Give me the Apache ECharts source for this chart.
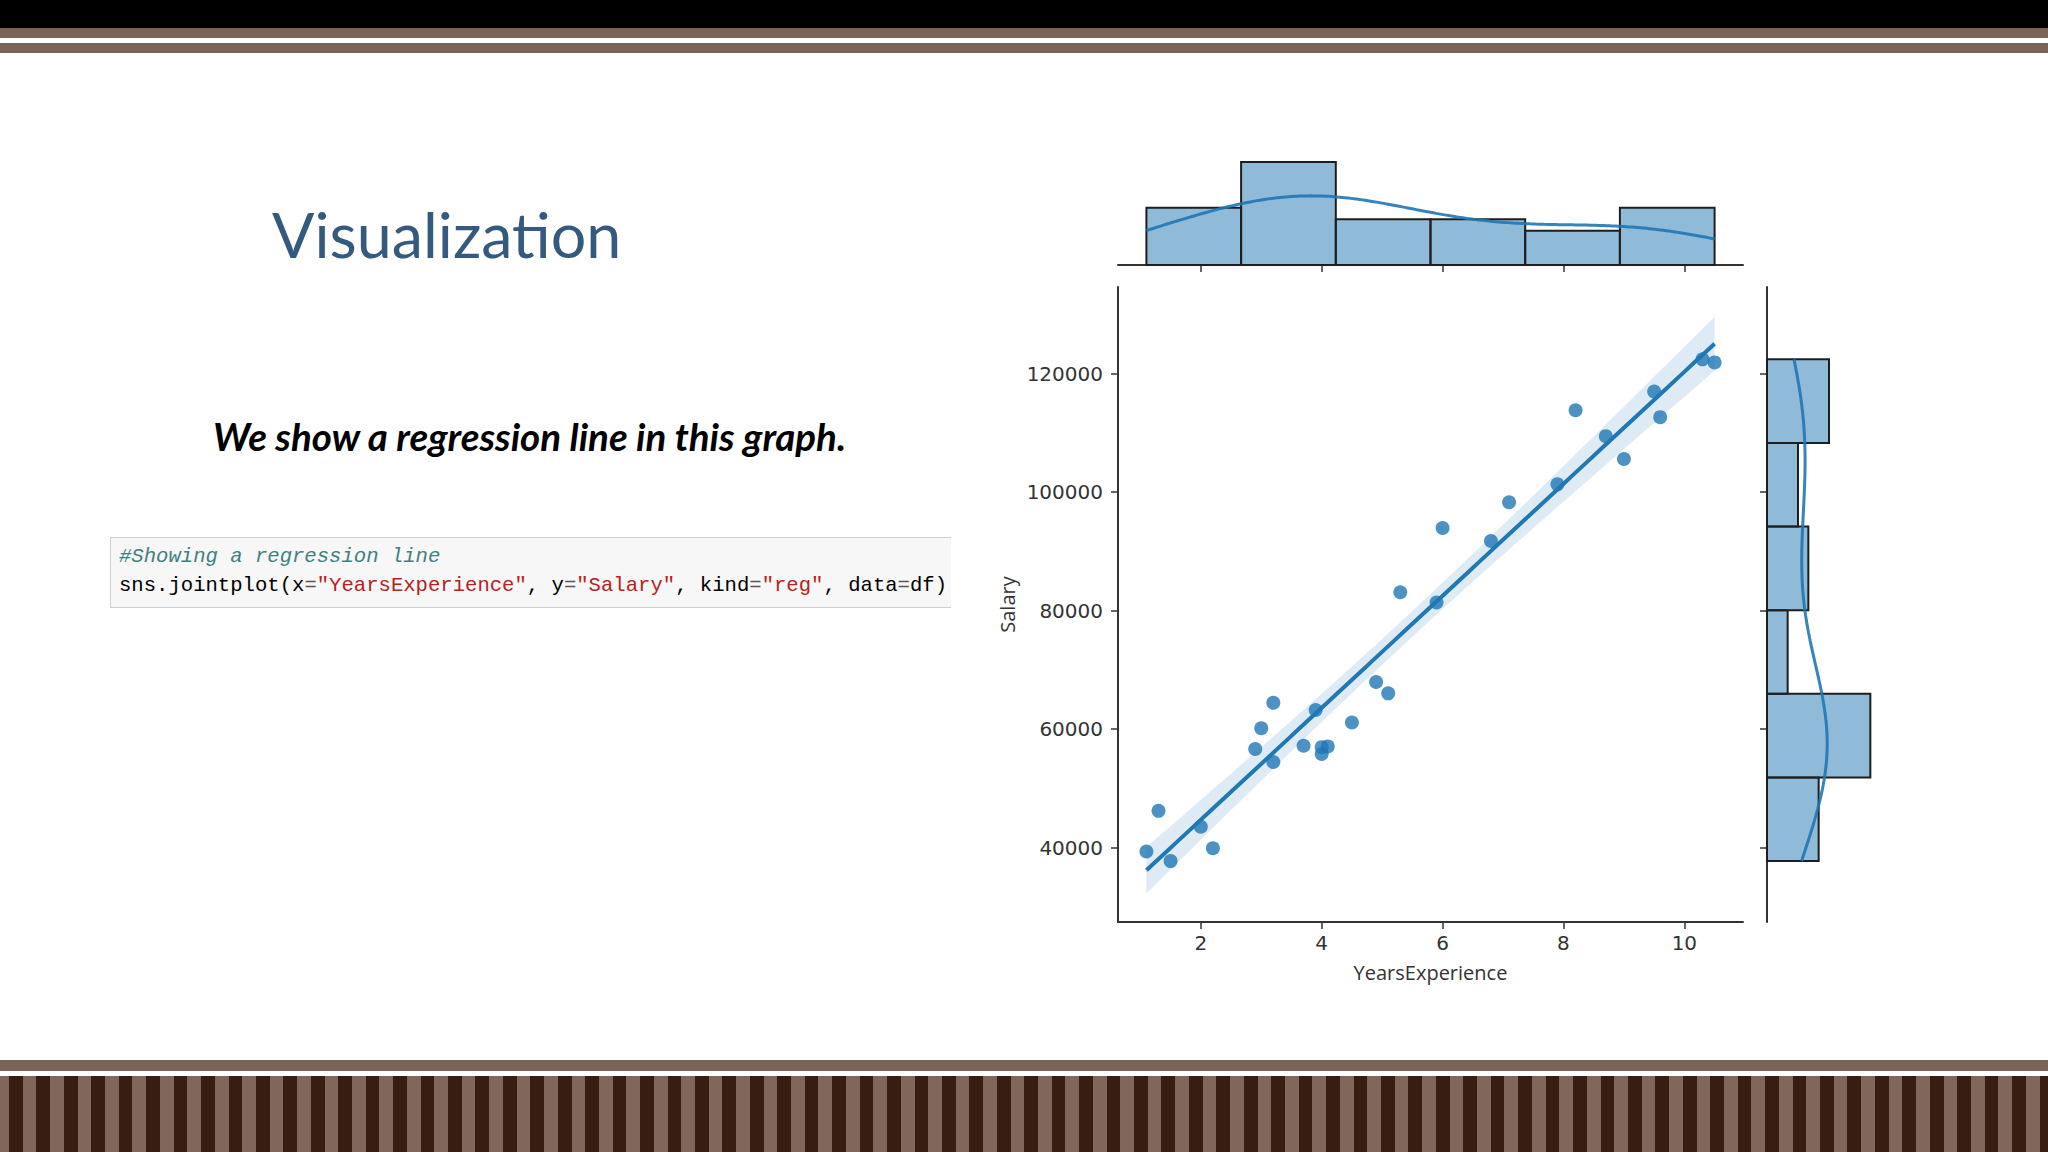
<!DOCTYPE html>
<html>
<head>
<meta charset="utf-8">
<script src="https://cdn.jsdelivr.net/npm/echarts@6/dist/echarts.min.js"></script>
<style>
  html, body { margin: 0; padding: 0; }
  body { width: 2048px; height: 1152px; position: relative; overflow: hidden; background: #ffffff; }
  .abs { position: absolute; }
  .band { position: absolute; left: 0; width: 2048px; }
  #title { left: 272px; top: 203px; font-family: Lato, sans-serif; font-size: 62.8px; line-height: 1; color: #345b7f; white-space: nowrap; }
  #subtitle { left: 213px; top: 417px; font-family: Lato, sans-serif; font-weight: bold; font-style: italic; font-size: 38.5px; line-height: 1; color: #000; white-space: nowrap; }
  #code { left: 110px; top: 537px; width: 841px; height: 71px; background: #f7f7f7; border: 1px solid #cfcfcf; border-right: none; box-sizing: border-box; }
  .codeline { position: absolute; left: 8px; font-family: "Liberation Mono", monospace; font-size: 20.6px; line-height: 1; white-space: pre; color: #000; }
  .cm { color: #408080; font-style: italic; }
  .st { color: #ba2121; }
  .op { color: #555; }
  #chart { position: absolute; left: 0; top: 0; width: 2048px; height: 1152px; }
</style>
</head>
<body>
<div class="band" style="top:0;height:28px;background:#000;"></div>
<div class="band" style="top:28px;height:10px;background:#7a6458;"></div>
<div class="band" style="top:43px;height:10px;background:#7a6458;"></div>
<div class="band" style="top:1060px;height:11px;background:#7a6458;"></div>
<div class="band" style="top:1076px;height:76px;background:repeating-linear-gradient(90deg,#7f675b 0px,#7f675b 9px,#381d12 9px,#381d12 22.7px,#7f675b 22.7px,#7f675b 27.44px);"></div>

<div id="title" class="abs">Visualization</div>
<div id="subtitle" class="abs">We show a regression line in this graph.</div>
<div id="code" class="abs">
  <div class="codeline" style="top:9px;"><span class="cm">#Showing a regression line</span></div>
  <div class="codeline" style="top:38px;">sns.jointplot(x<span class="op">=</span><span class="st">"YearsExperience"</span>, y<span class="op">=</span><span class="st">"Salary"</span>, kind<span class="op">=</span><span class="st">"reg"</span>, data<span class="op">=</span>df)</div>
</div>

<div id="chart"></div>
<script>
// ---- data ----
const yearsExperience = [1.1, 1.3, 1.5, 2.0, 2.2, 2.9, 3.0, 3.2, 3.2, 3.7, 3.9, 4.0, 4.0, 4.1, 4.5,
                         4.9, 5.1, 5.3, 5.9, 6.0, 6.8, 7.1, 7.9, 8.2, 8.7, 9.0, 9.5, 9.6, 10.3, 10.5];
const salary = [39343, 46205, 37731, 43525, 39891, 56642, 60150, 54445, 64445, 57189, 63218, 55794, 56957, 57081, 61111,
                67938, 66029, 83088, 81363, 93940, 91738, 98273, 101302, 113812, 109431, 105582, 116969, 112635, 122391, 121872];
const xHistCounts = [5, 9, 4, 4, 3, 5];
const yHistCounts = [5, 10, 2, 4, 3, 6];
const xTickValues = [2, 4, 6, 8, 10];
const yTickValues = [40000, 60000, 80000, 100000, 120000];
const xAxisName = 'YearsExperience';
const yAxisName = 'Salary';

// ---- derived quantities ----
const n = yearsExperience.length;
const mean = a => a.reduce((s, v) => s + v, 0) / a.length;
const sd = a => { const m = mean(a); return Math.sqrt(a.reduce((s, v) => s + (v - m) * (v - m), 0) / (a.length - 1)); };

function binEdges(vals, k) {
  const lo = Math.min(...vals), hi = Math.max(...vals), w = (hi - lo) / k;
  const e = []; for (let i = 0; i <= k; i++) e.push(lo + i * w);
  return e;
}
const xEdges = binEdges(yearsExperience, xHistCounts.length);
const yEdges = binEdges(salary, yHistCounts.length);
const xBinW = xEdges[1] - xEdges[0];
const yBinW = yEdges[1] - yEdges[0];

function kdeCurve(vals, scale, steps) {
  const bw = sd(vals) * Math.pow(vals.length, -0.2);
  const lo = Math.min(...vals), hi = Math.max(...vals);
  const out = [];
  for (let i = 0; i <= steps; i++) {
    const g = lo + (hi - lo) * i / steps;
    let s = 0;
    for (const v of vals) { const z = (g - v) / bw; s += Math.exp(-0.5 * z * z); }
    out.push([g, s / (vals.length * bw * Math.sqrt(2 * Math.PI)) * scale]);
  }
  return out;
}
const xKde = kdeCurve(yearsExperience, n * xBinW, 200);
const yKde = kdeCurve(salary, n * yBinW, 200).map(p => [p[1], p[0]]);

// OLS regression and 95% confidence band
const mx = mean(yearsExperience), my = mean(salary);
let sxx = 0, sxy = 0;
for (let i = 0; i < n; i++) { sxx += (yearsExperience[i] - mx) ** 2; sxy += (yearsExperience[i] - mx) * (salary[i] - my); }
const slope = sxy / sxx, intercept = my - slope * mx;
let sse = 0;
for (let i = 0; i < n; i++) sse += (salary[i] - intercept - slope * yearsExperience[i]) ** 2;
const sRes = Math.sqrt(sse / (n - 2));
const tCrit = 2.048;
const xLo = Math.min(...yearsExperience), xHi = Math.max(...yearsExperience);
const regLine = [], bandUpper = [], bandLower = [];
for (let i = 0; i <= 60; i++) {
  const x = xLo + (xHi - xLo) * i / 60;
  const yh = intercept + slope * x;
  const se = sRes * Math.sqrt(1 / n + (x - mx) ** 2 / sxx);
  regLine.push([x, yh]);
  bandUpper.push([x, yh + tCrit * se]);
  bandLower.push([x, yh - tCrit * se]);
}
const bandPoly = bandUpper.concat(bandLower.slice().reverse());

const xMin = 0.63, xMax = 10.97, yMin = 27450, yMax = 134600;
const axisCol = '#333333';
const blue = '#1f77b4';

const chart = echarts.init(document.getElementById('chart'), null, { renderer: 'svg' });
const histItem = (horizontal) => function (params, api) {
  const a = api.value(0), b = api.value(1), c = api.value(2);
  let p0, p1;
  if (!horizontal) { p0 = api.coord([a, c]); p1 = api.coord([b, 0]); }
  else { p0 = api.coord([0, b]); p1 = api.coord([c, a]); }
  return {
    type: 'rect',
    shape: { x: p0[0], y: p0[1], width: p1[0] - p0[0], height: p1[1] - p0[1] },
    style: { fill: 'rgba(31,119,180,0.5)', stroke: '#1e1e1e', lineWidth: 2 }
  };
};

chart.setOption({
  backgroundColor: 'transparent',
  animation: false,
  grid: [
    { left: 1118, top: 287, width: 625, height: 635, outerBoundsMode: 'none' },
    { left: 1118, top: 139, width: 625, height: 126, outerBoundsMode: 'none' },
    { left: 1767, top: 287, width: 124, height: 635, outerBoundsMode: 'none' }
  ],
  xAxis: [
    {
      gridIndex: 0, type: 'value', min: xMin, max: xMax,
      axisLine: { show: true, onZero: false, lineStyle: { color: axisCol, width: 2 } },
      axisTick: { show: true, length: 7, customValues: xTickValues, lineStyle: { color: axisCol, width: 1.5 } },
      axisLabel: { customValues: xTickValues, color: '#333', fontSize: 20, fontFamily: 'DejaVu Sans', margin: 11 },
      splitLine: { show: false },
      name: xAxisName, nameLocation: 'middle', nameGap: 40,
      nameTextStyle: { fontFamily: 'Open Sans', fontSize: 20, color: '#333' }
    },
    {
      gridIndex: 1, type: 'value', min: xMin, max: xMax,
      axisLine: { show: true, onZero: false, lineStyle: { color: axisCol, width: 2 } },
      axisTick: { show: true, length: 7, customValues: xTickValues, lineStyle: { color: axisCol, width: 1.5 } },
      axisLabel: { show: false },
      splitLine: { show: false }
    },
    { gridIndex: 2, type: 'value', min: 0, max: 12, show: false, splitLine: { show: false } }
  ],
  yAxis: [
    {
      gridIndex: 0, type: 'value', min: yMin, max: yMax,
      axisLine: { show: true, onZero: false, lineStyle: { color: axisCol, width: 2 } },
      axisTick: { show: true, length: 7, customValues: yTickValues, lineStyle: { color: axisCol, width: 1.5 } },
      axisLabel: { customValues: yTickValues, color: '#333', fontSize: 20, fontFamily: 'DejaVu Sans', margin: 15, formatter: v => String(v) },
      splitLine: { show: false },
      name: yAxisName, nameLocation: 'middle', nameGap: 101, nameRotate: 90,
      nameTextStyle: { fontFamily: 'Open Sans', fontSize: 20, color: '#333' }
    },
    { gridIndex: 1, type: 'value', min: 0, max: 11, show: false, splitLine: { show: false } },
    {
      gridIndex: 2, type: 'value', min: yMin, max: yMax,
      axisLine: { show: true, onZero: false, lineStyle: { color: axisCol, width: 2 } },
      axisTick: { show: true, length: 7, customValues: yTickValues, lineStyle: { color: axisCol, width: 1.5 } },
      axisLabel: { show: false },
      splitLine: { show: false }
    }
  ],
  series: [
    {
      type: 'scatter', xAxisIndex: 0, yAxisIndex: 0, z: 2,
      data: yearsExperience.map((x, i) => [x, salary[i]]),
      symbolSize: 14,
      itemStyle: { color: blue, opacity: 0.8 }
    },
    {
      type: 'custom', xAxisIndex: 0, yAxisIndex: 0, z: 3, silent: true,
      data: [[xLo, intercept + slope * xLo]],
      renderItem: (params, api) => ({
        type: 'polygon',
        shape: { points: bandPoly.map(p => api.coord(p)) },
        style: { fill: 'rgba(31,119,180,0.15)' }
      })
    },
    {
      type: 'line', xAxisIndex: 0, yAxisIndex: 0, z: 4,
      data: regLine, showSymbol: false, symbol: 'none',
      lineStyle: { color: blue, width: 4 }
    },
    {
      type: 'custom', xAxisIndex: 1, yAxisIndex: 1, z: 2,
      data: xHistCounts.map((c, i) => [xEdges[i], xEdges[i + 1], c]),
      encode: { x: [0, 1], y: 2 },
      renderItem: histItem(false)
    },
    {
      type: 'line', xAxisIndex: 1, yAxisIndex: 1, z: 3,
      data: xKde, showSymbol: false, symbol: 'none',
      lineStyle: { color: blue, width: 3, opacity: 0.9 }
    },
    {
      type: 'custom', xAxisIndex: 2, yAxisIndex: 2, z: 2,
      data: yHistCounts.map((c, i) => [yEdges[i], yEdges[i + 1], c]),
      encode: { y: [0, 1], x: 2 },
      renderItem: histItem(true)
    },
    {
      type: 'line', xAxisIndex: 2, yAxisIndex: 2, z: 3,
      data: yKde, showSymbol: false, symbol: 'none',
      lineStyle: { color: blue, width: 3, opacity: 0.9 }
    }
  ]
});
</script>
</body>
</html>
